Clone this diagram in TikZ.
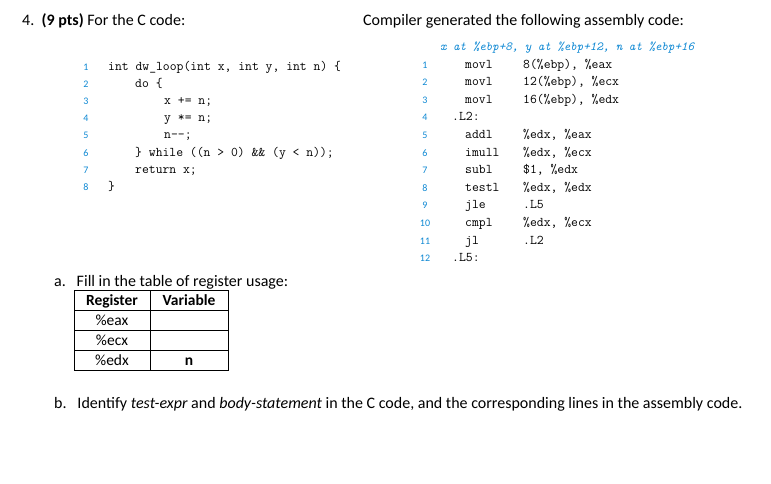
\documentclass[tikz,border=0pt]{standalone}
\usepackage{fontspec}
\setmainfont{Carlito}
\begin{document}
\begin{tikzpicture}[x=1pt,y=-1pt,
  txt/.style={anchor=base west,inner sep=0,font=\fontsize{16}{18}\selectfont},
  code/.style={anchor=base west,inner sep=0,font=\ttfamily\fontsize{13.3}{15}\selectfont},
  lnum/.style={anchor=base,inner sep=0,text=cyan!70!blue,font=\fontsize{10}{11}\selectfont},
  cell/.style={anchor=base,inner sep=0,font=\fontsize{15.5}{17}\selectfont}]
\useasboundingbox (0,0) rectangle (771,483);
\node[txt] (q) at (22,25) {4.\ \ \textbf{(9 pts)} For the C code:};
\node[txt] (cg) at (363,25) {Compiler generated the following assembly code:};
\node[code,text=cyan!70!blue,font=\ttfamily\itshape\fontsize{12.4}{14}\selectfont] (ann) at (440,50) {x at \%ebp+8, y at \%ebp+12, n at \%ebp+16};
% C code
\foreach \i/\x/\t in {1/108/{int dw\_loop(int x, int y, int n) \{},2/135/{do \{},3/164/{x += n;},4/164/{y *= n;},5/164/{n-{}-;},6/135/{\} while ((n > 0) \&\& (y < n));},7/135/{return x;},8/108/{\}}}{
  \node[lnum] (cn\i) at (86,{70+17.2*(\i-1)}) {\i};
  \node[code] (c\i) at (\x,{70+17.2*(\i-1)}) {\t};
}
% assembly
\foreach \i/\m/\o in {1/movl/{8(\%ebp), \%eax},2/movl/{12(\%ebp), \%ecx},3/movl/{16(\%ebp), \%edx},5/addl/{\%edx, \%eax},6/imull/{\%edx, \%ecx},7/subl/{\$1, \%edx},8/testl/{\%edx, \%edx},9/jle/{.L5},10/cmpl/{\%edx, \%ecx},11/jl/{.L2}}{
  \node[code] (am\i) at (465,{68+17.6*(\i-1)}) {\m};
  \node[code] (ao\i) at (523,{68+17.6*(\i-1)}) {\o};
}
\node[code] (al4) at (452,{68+17.6*3}) {.L2:};
\node[code] (al12) at (452,{68+17.6*11}) {.L5:};
\foreach \i in {1,...,12}{
  \node[lnum] (an\i) at (425,{68+17.6*(\i-1)}) {\i};
}
% part a
\node[txt] (pa) at (54,286) {a.\ \ \ Fill in the table of register usage:};
\draw[line width=0.8pt] (74,290) rectangle (228,370);
\foreach \y in {310,330,350} \draw[line width=0.6pt] (74,\y) -- (228,\y);
\draw[line width=0.6pt] (150,290) -- (150,370);
\node[cell] (h1) at (112,305) {\textbf{Register}};
\node[cell] (h2) at (189,305) {\textbf{Variable}};
\node[cell] (r1) at (112,325) {\%eax};
\node[cell] (r2) at (112,345) {\%ecx};
\node[cell] (r3) at (112,365) {\%edx};
\node[cell] (v3) at (189,365) {\textbf{n}};
% part b
\node[txt] (pb) at (54,408) {b.\ \ \ Identify \textit{test-expr} and \textit{body-statement} in the C code, and the corresponding lines in the assembly code.};
\end{tikzpicture}
\end{document}
